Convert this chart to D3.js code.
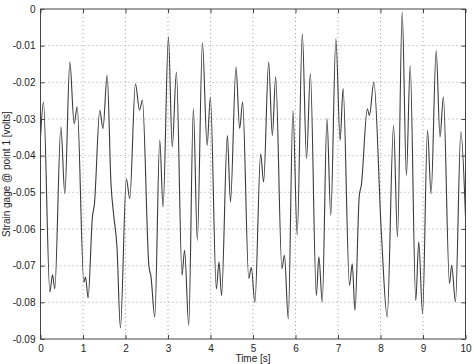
<!DOCTYPE html>
<html>
<head>
<meta charset="utf-8">
<script src="https://cdn.jsdelivr.net/npm/d3@7"></script>
<style>
  body { margin: 0; background: #fff; }
  text { font-family: "Liberation Sans", Arial, sans-serif; }
</style>
</head>
<body>
<div id="chart-area"></div>
<script>
// time [s] and strain gage reading [volts] (turning points + shoulders)
var times = [0, 0.07, 0.22, 0.283, 0.336, 0.479, 0.573, 0.69, 0.792, 0.863,
    1.02, 1.06, 1.12, 1.22, 1.27, 1.395, 1.47, 1.568, 1.66, 1.72, 1.80, 1.88,
    2.02, 2.10, 2.234, 2.33, 2.398, 2.55, 2.60, 2.689, 2.806, 2.884,
    3.01, 3.10, 3.198, 3.33, 3.39, 3.488, 3.597, 3.69, 3.81, 3.92, 3.997,
    4.138, 4.2, 4.26, 4.397, 4.47, 4.6, 4.686, 4.756, 4.90, 4.96,
    5.045, 5.18, 5.25, 5.368, 5.455, 5.533, 5.68, 5.74, 5.83, 5.94,
    6.04, 6.16, 6.26, 6.35, 6.49, 6.55, 6.63, 6.74, 6.83, 6.95,
    7.05, 7.12, 7.27, 7.335, 7.40, 7.50, 7.55, 7.69, 7.74, 7.844,
    8.02, 8.157, 8.307, 8.40, 8.51, 8.61, 8.698, 8.83, 8.90, 8.99,
    9.106, 9.19, 9.31, 9.40, 9.48, 9.623, 9.675, 9.764, 9.89, 10.0];
var volts = [-0.035, -0.0254, -0.0772, -0.0725, -0.0763, -0.0322, -0.0504, -0.0145, -0.0313, -0.0267,
    -0.0745, -0.0731, -0.0788, -0.057, -0.053, -0.0276, -0.0326, -0.0181, -0.048, -0.056, -0.065, -0.087,
    -0.0463, -0.0517, -0.0204, -0.0276, -0.0249, -0.070, -0.073, -0.084, -0.0358, -0.054,
    -0.0076, -0.0376, -0.0172, -0.0726, -0.0658, -0.0863, -0.0272, -0.0631, -0.0092, -0.0372, -0.024,
    -0.0763, -0.069, -0.0781, -0.0345, -0.0526, -0.0158, -0.0326, -0.0254, -0.0735, -0.0705,
    -0.080, -0.0395, -0.0472, -0.0145, -0.0345, -0.0185, -0.0708, -0.0672, -0.0845, -0.0276,
    -0.0617, -0.0067, -0.0408, -0.0176, -0.0781, -0.0676, -0.0799, -0.0299, -0.0563, -0.0081,
    -0.0358, -0.0217, -0.0754, -0.0695, -0.0822, -0.051, -0.048, -0.0272, -0.029, -0.0199,
    -0.061, -0.084, -0.0317, -0.0622, -0.0008, -0.0454, -0.0154, -0.0795, -0.0635, -0.0831,
    -0.0331, -0.0504, -0.0113, -0.0349, -0.024, -0.0749, -0.0699, -0.0799, -0.0335, -0.0567];

var xTicks = [0, 1, 2, 3, 4, 5, 6, 7, 8, 9, 10];
var yTicks = [0, -0.01, -0.02, -0.03, -0.04, -0.05, -0.06, -0.07, -0.08, -0.09];

var margin = { left: 40.5, right: 8.5, top: 9, bottom: 25 };
var width = 474 - margin.left - margin.right,
    height = 364 - margin.top - margin.bottom;

var svg = d3.select("#chart-area")
    .append("svg")
        .attr("width", 474)
        .attr("height", 364);
var g = svg.append("g")
    .attr("transform", "translate(" + margin.left + "," + margin.top + ")");

var x = d3.scaleLinear().domain([0, 10]).range([0, width]);
var y = d3.scaleLinear().domain([-0.09, 0]).range([height, 0]);

// dotted grid
g.selectAll(".gx").data(xTicks.slice(1, -1)).enter().append("line")
    .attr("x1", function(d){ return x(d); }).attr("x2", function(d){ return x(d); })
    .attr("y1", 0).attr("y2", height)
    .attr("stroke", "#8a8a8a").attr("stroke-width", 0.8)
    .attr("stroke-dasharray", "1,3");
g.selectAll(".gy").data(yTicks.slice(1, -1)).enter().append("line")
    .attr("y1", function(d){ return y(d); }).attr("y2", function(d){ return y(d); })
    .attr("x1", 0).attr("x2", width)
    .attr("stroke", "#8a8a8a").attr("stroke-width", 0.8)
    .attr("stroke-dasharray", "1,3");

// signal
var pts = times.map(function(t, i){ return [t, volts[i]]; });
var line = d3.line()
    .x(function(d){ return x(d[0]); })
    .y(function(d){ return y(d[1]); })
    .curve(d3.curveMonotoneX);
g.append("path")
    .datum(pts)
    .attr("fill", "none")
    .attr("stroke", "#3a3a3a")
    .attr("stroke-width", 1.1)
    .attr("d", line);

// axes, matlab style: ticks inside on all four sides
var tick = 4;
g.append("g")
    .attr("transform", "translate(0," + height + ")")
    .call(d3.axisBottom(x).tickValues(xTicks).tickSizeInner(-tick).tickSizeOuter(0).tickPadding(6));
g.append("g")
    .call(d3.axisTop(x).tickValues(xTicks).tickSizeInner(-tick).tickSizeOuter(0).tickFormat(""));
g.append("g")
    .call(d3.axisLeft(y).tickValues(yTicks).tickSizeInner(-tick).tickSizeOuter(0).tickPadding(5)
        .tickFormat(function(d){ return d === 0 ? "0" : d3.format(".2f")(d).replace("−", "-"); }));
g.append("g")
    .attr("transform", "translate(" + width + ",0)")
    .call(d3.axisRight(y).tickValues(yTicks).tickSizeInner(-tick).tickSizeOuter(0).tickFormat(""));

g.selectAll(".domain").remove();
g.selectAll(".tick line").attr("stroke", "#444");
g.selectAll(".tick text").attr("font-size", "10px").attr("fill", "#222")
    .style("font-family", "'Liberation Sans', Arial, sans-serif");

g.append("rect")
    .attr("width", width).attr("height", height)
    .attr("fill", "none").attr("stroke", "#444").attr("stroke-width", 1);

// labels
g.append("text")
    .attr("x", width / 2)
    .attr("y", height + 23)
    .attr("font-size", "10px")
    .attr("fill", "#222")
    .attr("text-anchor", "middle")
    .text("Time [s]");
g.append("text")
    .attr("transform", "rotate(-90)")
    .attr("x", -height / 2)
    .attr("y", -31)
    .attr("font-size", "10px")
    .attr("fill", "#222")
    .attr("text-anchor", "middle")
    .text("Strain gage @ point 1 [volts]");
</script>
</body>
</html>
